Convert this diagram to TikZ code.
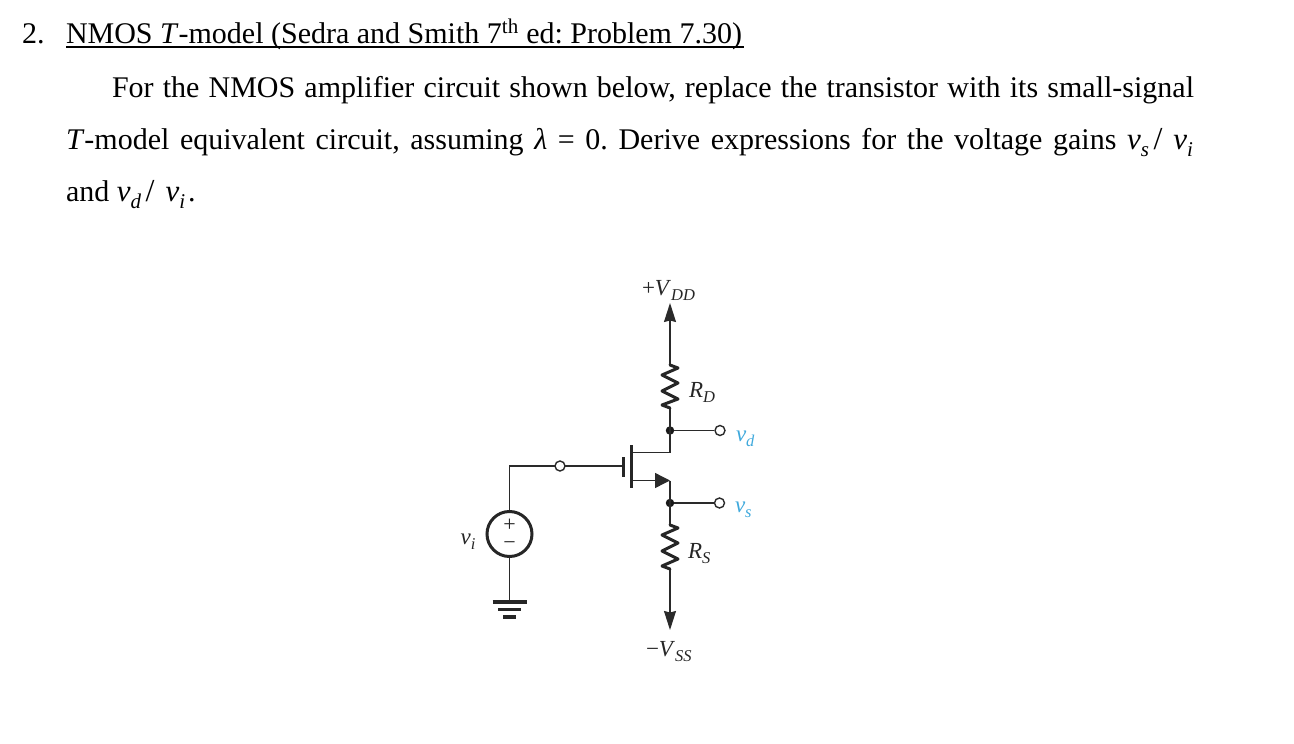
\documentclass[tikz,border=0pt]{standalone}
\usepackage{fontspec}
\setmainfont{Liberation Serif}
\usetikzlibrary{arrows.meta,calc}
\definecolor{ink}{HTML}{2A2A2A}
\definecolor{sig}{HTML}{3FA9DC}
\newcommand{\body}{\fontsize{30}{32}\selectfont\frenchspacing}
\newcommand{\lab}{\fontsize{23}{26}\selectfont}
\newcommand{\labsub}{\fontsize{16.5}{18}\selectfont}
\newcommand{\vsub}[2]{{\fontsize{31}{32}\selectfont\textit{#1}}\raisebox{-0.24em}{\fontsize{21}{22}\selectfont\textit{#2}}}
\newcommand{\slashgap}{\kern4.5pt{\fontsize{32}{32}\selectfont/}\kern11pt}
\newcommand{\csub}[2]{\lab\textit{#1}\raisebox{-0.25em}{\labsub\textit{#2}}}
\tikzset{
  x=1pt,y=-1pt,
  textline/.style={anchor=base west,inner sep=0pt,outer sep=0pt,font=\body,text=black},
  wire/.style={draw=ink,line width=1.4pt},
  resist/.style={draw=black!85,line width=3pt,line join=round,line cap=round},
  terminal/.style={circle,draw=ink,fill=white,line width=1.4pt,minimum size=10pt,inner sep=0pt},
  joint/.style={circle,fill=black!90,minimum size=8.5pt,inner sep=0pt},
  plate/.style={draw=black!85,line width=3pt},
  source/.style={circle,draw=black!85,fill=white,line width=3pt,minimum size=45pt,inner sep=0pt},
  earth/.style={draw=black!85,line width=3.2pt},
  lbl/.style={inner sep=0pt,outer sep=0pt,text=black!85},
  outlbl/.style={lbl,text=sig,font=\lab\itshape},
  railtip/.style={-{Stealth[length=19pt,width=12pt,inset=1.5pt]}},
  chevron/.style={-{Stealth[length=15pt,width=15pt,inset=0pt]}},
}
\begin{document}
\begin{tikzpicture}
\useasboundingbox (0,0) rectangle (1294,744);
% text
\node[textline] (t0) at (22,43) {2.};
\node[textline] (t1) at (66,43) {NMOS \textit{T}-model (Sedra and Smith 7\textsuperscript{th} ed: Problem 7.30)};
\draw[line width=1.2pt,black] (66,47) -- (744,47);
\node[textline] (t2) at (112,97) {\hbox to 1082pt{For the NMOS amplifier circuit shown below, replace the transistor with its small-signal}};
\node[textline] (t3) at (66,149) {\hbox to 1127pt{\textit{T}-model equivalent circuit, assuming \textit{λ} = 0. Derive expressions for the voltage gains \vsub{v}{s}\slashgap\vsub{v}{i}}};
\node[textline] (t4) at (66,201) {and \vsub{v}{d}\slashgap\vsub{v}{i}\kern3pt.};
% coordinates
\coordinate (vdd) at (670,303);
\coordinate (rdt) at (670,365);
\coordinate (rdb) at (670,408);
\coordinate (dbend) at (670,452.5);
\coordinate (dch) at (631,452.5);
\coordinate (sch) at (631,480.5);
\coordinate (sbend) at (670,480.5);
\coordinate (rst) at (670,525);
\coordinate (rsb) at (670,569);
\coordinate (vss) at (670,630);
\coordinate (gbend) at (509.5,466);
\coordinate (gpl) at (623,466);
\coordinate (gnd) at (509.5,602);
% nodes
\node[joint] (jd) at (670,430.5) {};
\node[joint] (js) at (670,503) {};
\node[terminal] (od) at (720,430.5) {};
\node[terminal] (os) at (719.5,503) {};
\node[source] (vs) at (509.5,534) {};
% connectors
\draw[wire,railtip] (rdt) -- (vdd);
\draw[wire] (rdb) -- (jd.center) -- (dbend) -- (dch);
\draw[wire] (jd) -- (od);
\draw[wire] (js) -- (os);
\draw[wire] (sbend) -- (js.center) -- (rst);
\draw[wire,chevron] (sch) -- (sbend);
\draw[wire,railtip] (rsb) -- (vss);
\draw[wire] (vs) -- (gbend) -- (gpl);
\draw[wire] (vs) -- (gnd);
\node[terminal] (og) at (560,466) {};
% resistors
\draw[resist] (rdt) -- ++(8,3) -- ++(-16,7) -- ++(16,8) -- ++(-16,8) -- ++(16,8) -- ++(-16,6) -- (rdb);
\draw[resist] (rst) -- ++(8,3) -- ++(-16,7) -- ++(16,8) -- ++(-16,8) -- ++(16,8) -- ++(-16,7) -- (rsb);
% mosfet
\draw[plate] (631,445) -- (631,488);
\draw[plate] (623,457) -- (623,477);
% ground
\draw[earth] (492.5,602) -- (526.5,602);
\draw[earth] (498,609.5) -- (521,609.5);
\draw[earth] (503,617) -- (516,617);
% labels
\node[lbl,align=center,font=\fontsize{22}{18}\selectfont] (pm) at (509.5,534) {+\\−};
\node[lbl,anchor=base] (lvi) at (468,544) {\csub{v}{i}};
\node[lbl,anchor=base west] (lvdd) at (642,295) {\lab +\textit{V}\raisebox{-0.25em}{\labsub\textit{DD}}};
\node[lbl,anchor=base west] (lrd) at (689,397) {\csub{R}{D}};
\node[lbl,anchor=base west] (lrs) at (688,558) {\csub{R}{S}};
\node[lbl,anchor=base west] (lvss) at (646,656) {\lab −\textit{V}\raisebox{-0.25em}{\labsub\textit{SS}}};
\node[outlbl,anchor=base west] (lvd) at (736,441) {v\raisebox{-0.25em}{\labsub d}};
\node[outlbl,anchor=base west] (lvs) at (735,512) {v\raisebox{-0.25em}{\labsub s}};
\end{tikzpicture}
\end{document}
